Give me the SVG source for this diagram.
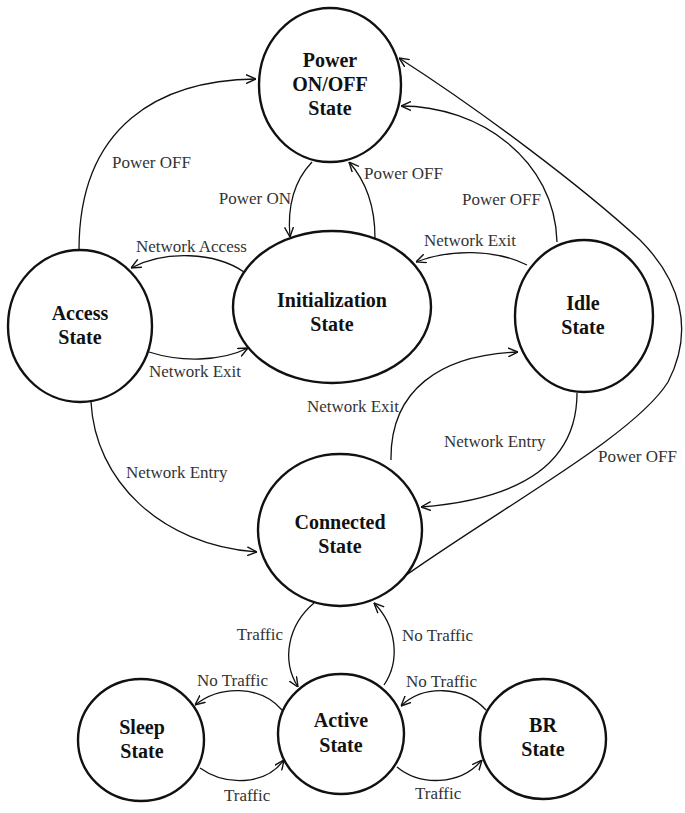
<svg xmlns="http://www.w3.org/2000/svg" width="685" height="813" viewBox="0 0 685 813">
<defs>
<style>
.node ellipse{fill:#fff;stroke:#111;stroke-width:2.4}
.node text{font-family:"Liberation Serif","Times New Roman",serif;font-weight:bold;font-size:20px;fill:#111;text-anchor:middle}
.edge{fill:none;stroke:#111;stroke-width:1.3;marker-end:url(#arr)}
.lbl{font-family:"Liberation Serif","Times New Roman",serif;font-size:17px;fill:#333}
</style>
<marker id="arr" viewBox="0 0 10 10" refX="10" refY="5" markerWidth="10" markerHeight="10" markerUnits="userSpaceOnUse" orient="auto">
<path d="M0,0.5 L10,5 L0,9.5" fill="none" stroke="#111" stroke-width="1.4"/>
</marker>
</defs>
<rect width="685" height="813" fill="#fff"/>
<g id="connectors">
<path class="edge" d="M79 250 C79 125,160 80,256 79"/>
<path class="edge" d="M312 162 C295 180,287 205,290 237"/>
<path class="edge" d="M375 238 C375 205,365 180,349 162"/>
<path class="edge" d="M557 242 C555 160,480 106,401 106"/>
<path class="edge" d="M402 578 C505 505,635 435,668 382 C695 330,680 280,640 240 C580 185,480 110,399 58"/>
<path class="edge" d="M244 272 C215 252,165 250,131 268"/>
<path class="edge" d="M149 352 C180 362,220 362,248 348"/>
<path class="edge" d="M527 265 C495 249,450 249,416 262"/>
<path class="edge" d="M391 460 C390 390,440 355,518 352"/>
<path class="edge" d="M577 393 C577 470,510 500,421 507"/>
<path class="edge" d="M91 402 C95 480,160 545,257 552"/>
<path class="edge" d="M314 603 C288 625,281 660,298 687"/>
<path class="edge" d="M384 685 C401 660,396 625,374 603"/>
<path class="edge" d="M282 710 C260 685,220 685,195 705"/>
<path class="edge" d="M200 768 C225 786,265 786,284 760"/>
<path class="edge" d="M486 710 C463 685,423 685,401 706"/>
<path class="edge" d="M397 767 C420 786,460 786,482 760"/>
<text class="lbl" x="112" y="168">Power OFF</text>
<text class="lbl" x="291" y="204" text-anchor="end">Power ON</text>
<text class="lbl" x="364" y="179">Power OFF</text>
<text class="lbl" x="462" y="205">Power OFF</text>
<text class="lbl" x="136" y="252">Network Access</text>
<text class="lbl" x="424" y="246">Network Exit</text>
<text class="lbl" x="149" y="377">Network Exit</text>
<text class="lbl" x="399" y="412" text-anchor="end">Network Exit</text>
<text class="lbl" x="444" y="447">Network Entry</text>
<text class="lbl" x="126" y="478">Network Entry</text>
<text class="lbl" x="598" y="462">Power OFF</text>
<text class="lbl" x="283" y="640" text-anchor="end">Traffic</text>
<text class="lbl" x="402" y="641">No Traffic</text>
<text class="lbl" x="197" y="686">No Traffic</text>
<text class="lbl" x="406" y="687">No Traffic</text>
<text class="lbl" x="224" y="801">Traffic</text>
<text class="lbl" x="415" y="799">Traffic</text>
</g>
<g id="power" class="node"><ellipse cx="330" cy="85" rx="71" ry="77"/><text x="330" y="67">Power</text><text x="330" y="91">ON/OFF</text><text x="330" y="115">State</text></g>
<g id="access" class="node"><ellipse cx="80" cy="326" rx="72" ry="76"/><text x="80" y="320">Access</text><text x="80" y="344">State</text></g>
<g id="init" class="node"><ellipse cx="332" cy="307" rx="99" ry="76"/><text x="332" y="307">Initialization</text><text x="332" y="331">State</text></g>
<g id="idle" class="node"><ellipse cx="584" cy="316" rx="69" ry="76"/><text x="583" y="310">Idle</text><text x="583" y="334">State</text></g>
<g id="connected" class="node"><ellipse cx="340" cy="530" rx="82" ry="76"/><text x="340" y="529">Connected</text><text x="340" y="553">State</text></g>
<g id="sleep" class="node"><ellipse cx="141" cy="740" rx="63" ry="61"/><text x="142" y="734">Sleep</text><text x="142" y="758">State</text></g>
<g id="active" class="node"><ellipse cx="341" cy="734" rx="63" ry="60"/><text x="341" y="727">Active</text><text x="341" y="752">State</text></g>
<g id="br" class="node"><ellipse cx="543" cy="739" rx="63" ry="60"/><text x="543" y="732">BR</text><text x="543" y="756">State</text></g>
</svg>
